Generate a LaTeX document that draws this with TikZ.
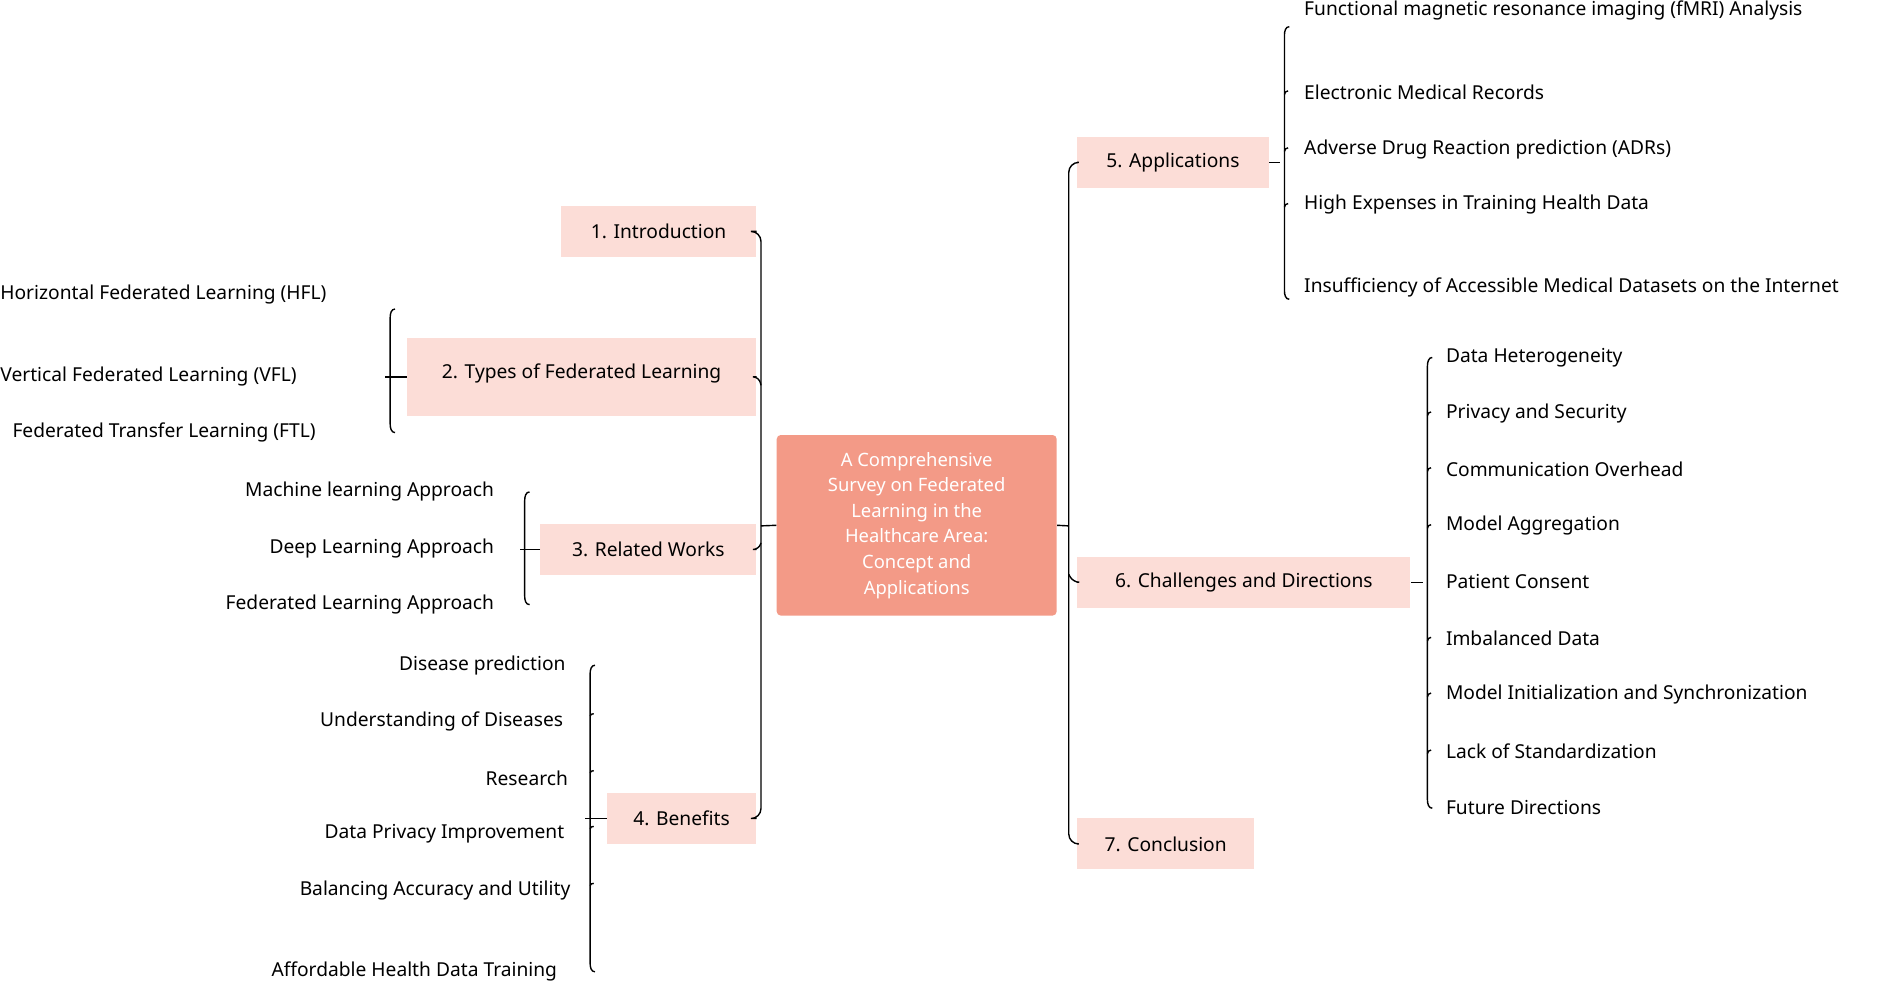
\documentclass[tikz,border=0pt]{standalone}
\usepackage{fontspec}
\setmainfont{Noto Sans}
\begin{document}
\begin{tikzpicture}[x=0.6058pt,y=-0.6058pt,
  br/.style={pink!0,fill=boxpink,minimum height=25.5pt,inner sep=0pt,font=\fontsize{9.6}{11}\selectfont},
  it/.style={inner sep=0pt,font=\fontsize{9.6}{11}\selectfont},
  ln/.style={draw=black,line width=0.7pt}]
\definecolor{boxpink}{HTML}{FCDDD7}
\definecolor{mainred}{HTML}{F39A87}
\useasboundingbox (0,0) rectangle (1568,814);
% center
\node[fill=mainred,rounded corners=2pt,minimum width=231*0.6058pt,minimum height=149*0.6058pt,text=white,align=center,font=\fontsize{9.2}{12.8}\selectfont] (c) at (756.5,433.5) {A Comprehensive\\Survey on Federated\\Learning in the\\Healthcare Area:\\Concept and\\Applications};
% left branches
\node[br,minimum width=161*0.6058pt] (b1) at (543.5,191) {\color{black}1. Introduction};
\node[br,minimum width=288*0.6058pt,minimum height=64*0.6058pt] (b2) at (480,311) {\color{black}\raisebox{6pt}{2. Types of Federated Learning}};
\node[br,minimum width=178*0.6058pt] (b3) at (535,453.5) {\color{black}3. Related Works};
\node[br,minimum width=123*0.6058pt] (b4) at (562.5,675.5) {\color{black}4. Benefits};
% right branches
\node[br,minimum width=158*0.6058pt] (b5) at (968,134) {\color{black}5. Applications};
\node[br,minimum width=275*0.6058pt] (b6) at (1026.5,480.5) {\color{black}6. Challenges and Directions};
\node[br,minimum width=146*0.6058pt] (b7) at (962,696.5) {\color{black}7. Conclusion};
% trunks
\coordinate (lt) at (628,434);
\coordinate (rt) at (882,434);
\draw[ln] (c.west) -- (lt);
\draw[ln] (c.east) -- (rt);
\draw[ln,rounded corners=5pt] (b1.east) -| (lt) |- (b4.east);
\draw[ln,rounded corners=3pt] (b2.east) -- ++(2,0) -- (628,318);
\draw[ln,rounded corners=3pt] (b3.east) -- ++(2,0) -- (628,448);
\draw[ln,rounded corners=5pt] (b5.west) -| (rt) |- (b7.west);
\draw[ln,rounded corners=3pt] (b6.west) -- ++(-3,0) -- (882,474);
% item nodes
\node[it,anchor=west] (t1) at (0,243) {Horizontal Federated Learning (HFL)};
\node[it,anchor=west] (t2) at (0,311) {Vertical Federated Learning (VFL)};
\node[it,anchor=west] (t3) at (10,357) {Federated Transfer Learning (FTL)};
\foreach \n/\y/\t in {r1/406/Machine learning Approach,r2/453/Deep Learning Approach,r3/499/Federated Learning Approach}
  \node[it,anchor=east] (\n) at (408,\y) {\t};
\foreach \n/\x/\y/\t in {e1/467/549/Disease prediction,e2/465/595/Understanding of Diseases,e3/469/642/Research,e4/466/688/Data Privacy Improvement,e5/471/735/Balancing Accuracy and Utility,e6/460/802/Affordable Health Data Training}
  \node[it,anchor=east] (\n) at (\x,\y) {\t};
\foreach \n/\y/\t in {a1/9/Functional magnetic resonance imaging (fMRI) Analysis,a2/76/Electronic Medical Records,a3/123/Adverse Drug Reaction prediction (ADRs),a4/169/High Expenses in Training Health Data,a5/237/Insufficiency of Accessible Medical Datasets on the Internet}
  \node[it,anchor=west] (\n) at (1076,\y) {\t};
\foreach \n/\y/\t in {d1/295/Data Heterogeneity,d2/341/Privacy and Security,d3/387/Communication Overhead,d4/434/Model Aggregation,d5/480/Patient Consent,d6/527/Imbalanced Data,d7/573/Model Initialization and Synchronization,d8/620/Lack of Standardization,d9/666/Future Directions}
  \node[it,anchor=west] (\n) at (1193,\y) {\t};
% brackets
\draw[ln] (b2.west) -- (318,311);
\draw[ln] (326,255) to[out=180,in=90] (322,262) -- (322,350) to[out=-90,in=180] (326,357);
\draw[ln] (b3.west) -- (429,453.5);
\draw[ln] (437,406) to[out=180,in=90] (433,413) -- (433,492) to[out=-90,in=180] (437,499);
\draw[ln] (b4.west) -- (483,675.5);
\draw[ln] (491,549) to[out=180,in=90] (487,556) -- (487,795) to[out=-90,in=180] (491,802);
\foreach \y in {595,642,688,735} \draw[ln] (487,\y-4) to[out=90,in=180] (490,\y-6);
\draw[ln] (b5.east) -- (1056,134);
\draw[ln] (1064,22) to[out=180,in=90] (1060,29) -- (1060,240) to[out=-90,in=180] (1064,247);
\foreach \y in {76,123,169} \draw[ln] (1060,\y+2) to[out=90,in=180] (1063,\y-1);
\draw[ln] (b6.east) -- (1174,480.5);
\draw[ln] (1182,295) to[out=180,in=90] (1178,302) -- (1178,660) to[out=-90,in=180] (1182,667);
\foreach \y in {341,387,434,527,573,620} \draw[ln] (1178,\y+2) to[out=90,in=180] (1181,\y-1);
\end{tikzpicture}
\end{document}
